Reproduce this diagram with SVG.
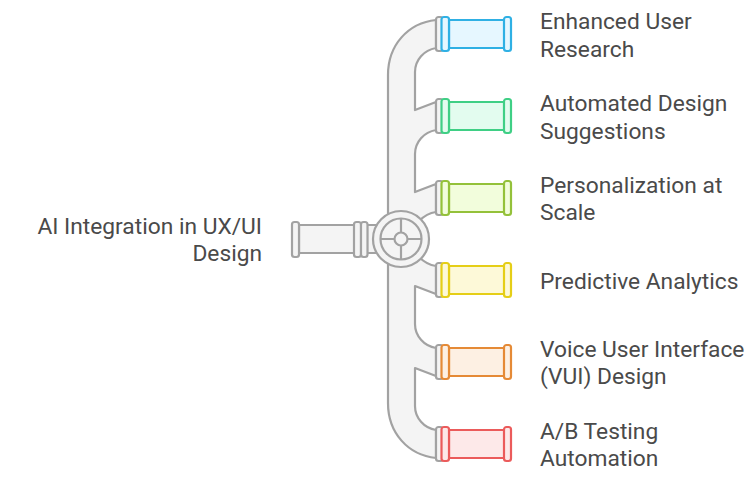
<svg xmlns="http://www.w3.org/2000/svg" width="755" height="488" viewBox="0 0 755 488">
<style>
text{font-family:Roboto,"Liberation Sans",sans-serif;font-size:22.75px;fill:#4a4a4a}
.g{fill:#f4f4f4;stroke:#a2a2a2;stroke-width:2.2;stroke-linejoin:round}
.p{stroke-width:2.2;stroke-linejoin:round}
.blue{fill:#e6f7ff;stroke:#2fb0e4}
.green{fill:#e3fcef;stroke:#3fcf85}
.lime{fill:#f2fddc;stroke:#94c13a}
.yellow{fill:#fdf9d8;stroke:#e5ce17}
.orange{fill:#fdf0e3;stroke:#e58a36}
.red{fill:#fde9e9;stroke:#eb5b5b}
</style>
<defs>
<g id="pipe">
<rect class="g" x="436" y="0" width="7" height="34" rx="2.5"/>
<rect x="449" y="3" width="56" height="28"/>
<rect x="441.500" y="0" width="7.500" height="34" rx="2.500"/>
<rect x="504" y="0" width="7" height="34" rx="2.500"/>
</g>
</defs>
<g id="connectors">
<path class="g" d="M436,20C408,23 388,45 388,75V403C388,433 408,455 436,458V430C424,428 415,418 415,406V368L436,376V348C424,346 415,336 415,324V286L436,294V266C429,265 424,262 419,257L400,239L419,221C424,216 429,213 436,212V184L415,192V154C415,142 424,132 436,130V102L415,110V72C415,60 424,50 436,48Z"/>
</g>
<g id="source">
<rect class="g" x="367" y="225" width="12" height="28"/>
<rect class="g" x="299" y="225" width="56" height="28"/>
<rect class="g" x="292" y="222" width="7" height="35" rx="2.500"/>
<rect class="g" x="354" y="222" width="7" height="35" rx="2.500"/>
<rect class="g" x="361" y="222" width="6.500" height="35" rx="2.500"/>
<text x="262" y="234" text-anchor="end">AI Integration in UX/UI</text>
<text x="262" y="261" text-anchor="end">Design</text>
</g>
<g id="hub">
<circle class="g" cx="401" cy="239" r="28"/>
<circle class="g" cx="401" cy="239" r="20.500"/>
<path class="g" d="M401,218.500V232.500M401,245.500V259.500M380.500,239H394.500M407.500,239H421.500" fill="none"/>
<circle class="g" cx="401" cy="239" r="6.500"/>
</g>
<g id="n1"><use href="#pipe" y="17" class="p blue"/><text x="540" y="29">Enhanced User</text><text x="540" y="57">Research</text></g>
<g id="n2"><use href="#pipe" y="99" class="p green"/><text x="540" y="111">Automated Design</text><text x="540" y="139">Suggestions</text></g>
<g id="n3"><use href="#pipe" y="181" class="p lime"/><text x="540" y="193">Personalization at</text><text x="540" y="220">Scale</text></g>
<g id="n4"><use href="#pipe" y="263" class="p yellow"/><text x="540" y="289">Predictive Analytics</text></g>
<g id="n5"><use href="#pipe" y="345" class="p orange"/><text x="540" y="357">Voice User Interface</text><text x="540" y="384">(VUI) Design</text></g>
<g id="n6"><use href="#pipe" y="427" class="p red"/><text x="540" y="439">A/B Testing</text><text x="540" y="466">Automation</text></g>
</svg>
